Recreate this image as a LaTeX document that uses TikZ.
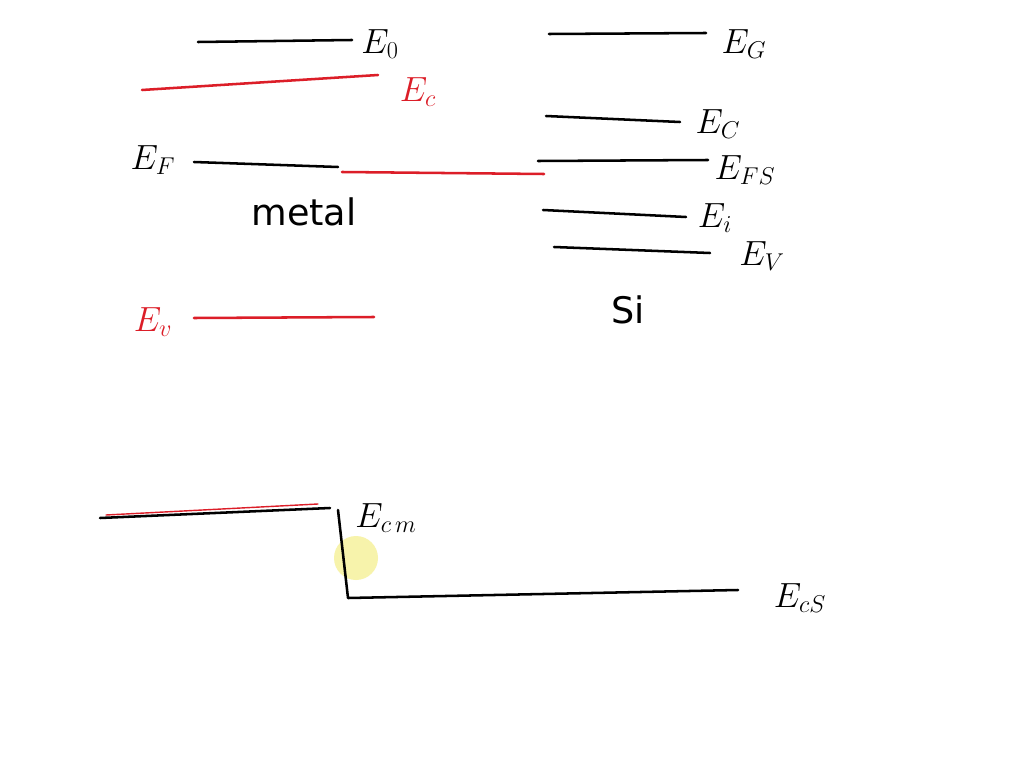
\documentclass[tikz,border=0pt]{standalone}
\usepackage{fontspec}
\setmainfont{DejaVu Sans}
\definecolor{penred}{RGB}{220,30,40}
\definecolor{hl}{RGB}{245,240,150}
\begin{document}
\begin{tikzpicture}[x=0.025cm,y=-0.025cm,
  lvl/.style={line width=1.8pt,line cap=round},
  lvlred/.style={lvl,draw=penred},
  lab/.style={font=\fontsize{26}{28}\selectfont,inner sep=0pt},
  labred/.style={lab,text=penred}]
\useasboundingbox (0,0) rectangle (1024,768);
\fill[white] (0,0) rectangle (1024,768);
% highlight of the pointer
\fill[hl,opacity=0.8] (356,558) circle (22);
% metal side
\coordinate (e0a) at (198,42); \coordinate (e0b) at (352,40);
\draw[lvl] (e0a) -- (e0b);
\node[lab] (E0) at (380,44) {$E_0$};
\coordinate (eca) at (142,90); \coordinate (ecb) at (378,75);
\draw[lvlred] (eca) -- (ecb);
\node[labred] (Ec) at (418,92) {$E_c$};
\node[lab] (EF) at (153,160) {$E_F$};
\coordinate (efa) at (194,162); \coordinate (efb) at (338,167);
\draw[lvl] (efa) -- (efb);
\coordinate (efra) at (342,172); \coordinate (efrb) at (544,174);
\draw[lvlred] (efra) -- (efrb);
\node[lab] (metal) at (304,212) {metal};
\node[labred] (Ev) at (153,322) {$E_v$};
\coordinate (eva) at (194,318); \coordinate (evb) at (374,317);
\draw[lvlred] (eva) -- (evb);
% semiconductor side
\coordinate (ega) at (549,34); \coordinate (egb) at (706,33);
\draw[lvl] (ega) -- (egb);
\node[lab] (EG) at (744,44) {$E_G$};
\coordinate (eCa) at (546,116); \coordinate (eCb) at (680,122);
\draw[lvl] (eCa) -- (eCb);
\node[lab] (EC) at (718,124) {$E_C$};
\coordinate (efsa) at (538,161); \coordinate (efsb) at (708,160);
\draw[lvl] (efsa) -- (efsb);
\node[lab] (EFS) at (745,170) {$E_{FS}$};
\coordinate (eia) at (543,210); \coordinate (eib) at (686,217);
\draw[lvl] (eia) -- (eib);
\node[lab] (Ei) at (715,218) {$E_i$};
\coordinate (eVa) at (554,247); \coordinate (eVb) at (710,253);
\draw[lvl] (eVa) -- (eVb);
\node[lab] (EV) at (762,256) {$E_V$};
\node[lab] (Si) at (628,310) {Si};
% junction diagram
\coordinate (ja) at (100,518); \coordinate (jb) at (330,508);
\draw[lvl] (ja) -- (jb);
\coordinate (jra) at (106,515); \coordinate (jrb) at (318,504);
\draw[line width=1pt,draw=penred,line cap=round] (jra) -- (jrb);
\coordinate (jc) at (338,510); \coordinate (jd) at (348,598); \coordinate (je) at (738,590);
\draw[lvl,line join=round] (jc) -- (jd) -- (je);
\node[lab] (Ecm) at (386,518) {$E_{c\,m}$};
\node[lab] (EcS) at (800,598) {$E_{cS}$};
\end{tikzpicture}
\end{document}
